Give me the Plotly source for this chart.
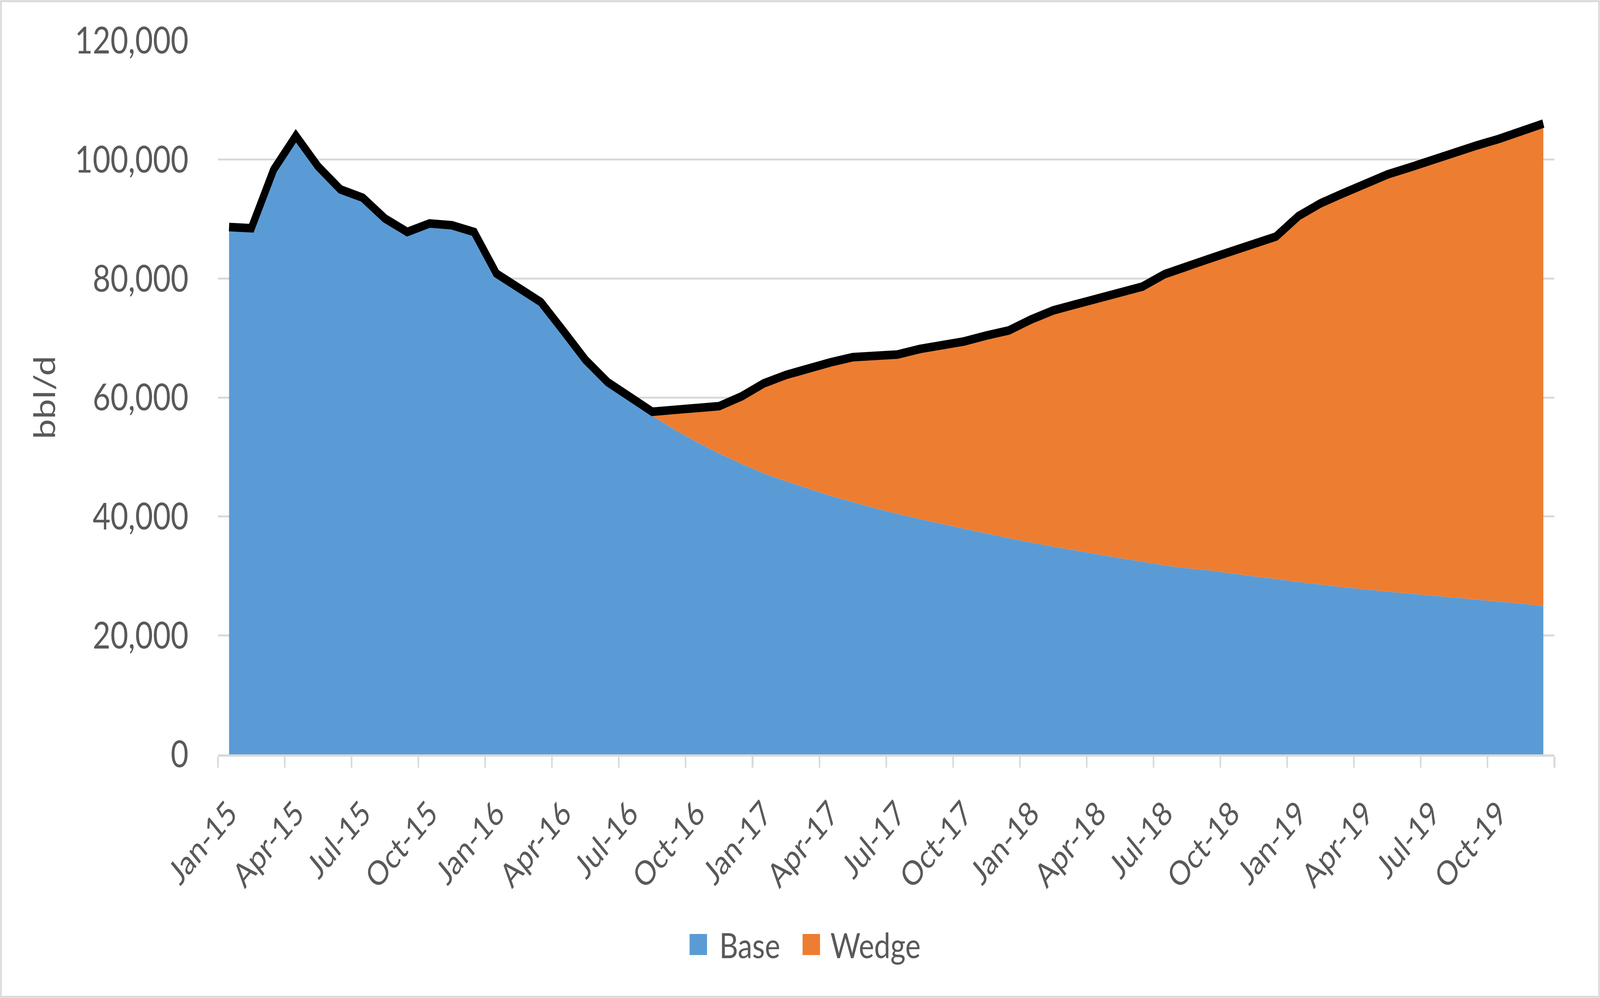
import plotly.graph_objects as go

# ---------------- data ----------------
years = ["15", "16", "17", "18", "19"]
month_names = ["Jan", "Feb", "Mar", "Apr", "May", "Jun",
               "Jul", "Aug", "Sep", "Oct", "Nov", "Dec"]
months = [f"{m}-{y}" for y in years for m in month_names]

total = [88650, 88460, 98300, 104000, 98830, 94980, 93590, 90090, 87830, 89260,
         88960, 87830, 80850, 78330, 76030, 71240, 66340, 62570, 59930, 57600,
         57925, 58400, 58540, 60170, 62370, 63790, 64965, 65910, 66775, 66950,
         67220, 68150, 68740, 69430, 70420, 71270, 73110, 74640, 75650, 76640,
         77560, 78640, 80740, 82150, 83320, 84580, 85770, 87060, 90480, 92650,
         94310, 95890, 97500, 98680, 100020, 101160, 102360, 103470, 104710, 106050]

base = [88650, 88460, 98300, 104000, 98830, 94980, 93590, 90090, 87830, 89260,
        88960, 87830, 80850, 78330, 76030, 71240, 66340, 62570, 59930, 56900,
        54600, 52500, 50600, 48850, 47250, 45920, 44680, 43470, 42420, 41390,
        40450, 39560, 38750, 37920, 37140, 36360, 35620, 34930, 34280, 33640,
        32990, 32390, 31750, 31300, 30930, 30430, 29930, 29490, 28990, 28550,
        28110, 27730, 27350, 27030, 26690, 26360, 26020, 25690, 25350, 24950]

wedge = [t - b for t, b in zip(total, base)]

tick_idx = list(range(0, len(months), 3))
tick_labels = [months[i] for i in tick_idx]

y_ticks = [0, 20000, 40000, 60000, 80000, 100000, 120000]

# ---------------- style ----------------
W, H = 4956, 2556
ML, MR, MT, MB = 675, 141, 104, 624
PW, PH = W - ML - MR, H - MT - MB

BLUE = "#5B9BD5"
ORANGE = "#ED7D31"
GRID = "#D9D9D9"
TEXT = "#595959"
FONT = "Lato"
FS_Y = 95
FS_X = 86
FS_T = 92
FS_L = 90


def px(xp):
    return (xp - ML) / PW


def py(yp):
    return (H - MB - yp) / PH


xs = list(range(len(months)))

fig = go.Figure()
fig.add_trace(go.Scatter(x=xs, y=base, name="Base", stackgroup="one",
                         mode="lines", line=dict(width=0, color=BLUE),
                         fillcolor=BLUE, text=months,
                         hovertemplate="%{text}: %{y:,}<extra>Base</extra>"))
fig.add_trace(go.Scatter(x=xs, y=wedge, name="Wedge", stackgroup="one",
                         mode="lines", line=dict(width=0, color=ORANGE),
                         fillcolor=ORANGE, text=months,
                         hovertemplate="%{text}: %{y:,}<extra>Wedge</extra>"))
fig.add_trace(go.Scatter(x=xs, y=total, name="Total", mode="lines",
                         line=dict(color="black", width=22), text=months,
                         hovertemplate="%{text}: %{y:,}<extra>Total</extra>"))

boundaries = [i - 0.5 for i in range(0, len(months) + 1, 3)]

fig.update_layout(
    width=W, height=H,
    margin=dict(l=ML, r=MR, t=MT, b=MB, autoexpand=False),
    paper_bgcolor="white", plot_bgcolor="white",
    showlegend=False,
    font=dict(family=FONT, size=FS_X, color=TEXT),
    xaxis=dict(
        range=[-0.5, len(months) - 0.5],
        tickmode="array", tickvals=tick_idx, ticktext=tick_labels,
        tickangle=-45, ticks="", showgrid=False, zeroline=False,
        showline=True, linecolor=GRID, linewidth=6,
        tickfont=dict(family=FONT, size=FS_X, color=TEXT),
        ticklabelstandoff=60,
        minor=dict(tickmode="array", tickvals=boundaries, ticks="outside",
                   ticklen=28, tickwidth=5, tickcolor=GRID, showgrid=False),
        automargin=False,
    ),
    yaxis=dict(
        range=[0, 120000], tickmode="array", tickvals=y_ticks,
        tickformat=",d", ticks="", showgrid=True, gridcolor=GRID, gridwidth=5,
        zeroline=False, showline=False,
        tickfont=dict(family=FONT, size=FS_Y, color=TEXT),
        ticklabelstandoff=90,
        title=dict(text="bbl/d", font=dict(family=FONT, size=FS_T, color=TEXT),
                   standoff=30),
        automargin=False,
    ),
)

# chart border
fig.add_shape(type="rect", xref="paper", yref="paper",
              x0=px(3), x1=px(W - 3), y0=py(H - 3), y1=py(3),
              line=dict(color=GRID, width=5), fillcolor="rgba(0,0,0,0)",
              layer="below")

# legend (manual, Excel-style square swatches)
sq = 54
leg_y_top = 2392
items = [("Base", BLUE, 2136, 2226), ("Wedge", ORANGE, 2486, 2570)]
for name, col, sx, tx in items:
    fig.add_shape(type="rect", xref="paper", yref="paper",
                  x0=px(sx), x1=px(sx + sq), y0=py(leg_y_top + sq), y1=py(leg_y_top),
                  line=dict(width=0), fillcolor=col)
    fig.add_annotation(xref="paper", yref="paper", x=px(tx), y=py(leg_y_top + sq / 2),
                       xanchor="left", yanchor="middle", text=name, showarrow=False,
                       font=dict(family=FONT, size=FS_L, color=TEXT))

# map the fixed 4956x2556 design onto whatever CSS viewport the browser provides
fit_js = """
(function(){
  var de = document.documentElement, b = document.body;
  var vw = window.innerWidth, vh = window.innerHeight;
  de.style.margin = '0'; de.style.padding = '0'; de.style.overflow = 'hidden';
  b.style.margin = '0'; b.style.padding = '0'; b.style.overflow = 'hidden';
  b.style.width = vw + 'px'; b.style.height = vh + 'px';
  var d = document.getElementById('{plot_id}');
  var sx = vw / %d, sy = vh / %d;
  d.style.transformOrigin = '0 0';
  d.style.transform = 'scale(' + sx + ',' + sy + ')';
})();
""" % (W, H)

fig.write_html("out.html", post_script=fit_js,
               config={"displayModeBar": False})
